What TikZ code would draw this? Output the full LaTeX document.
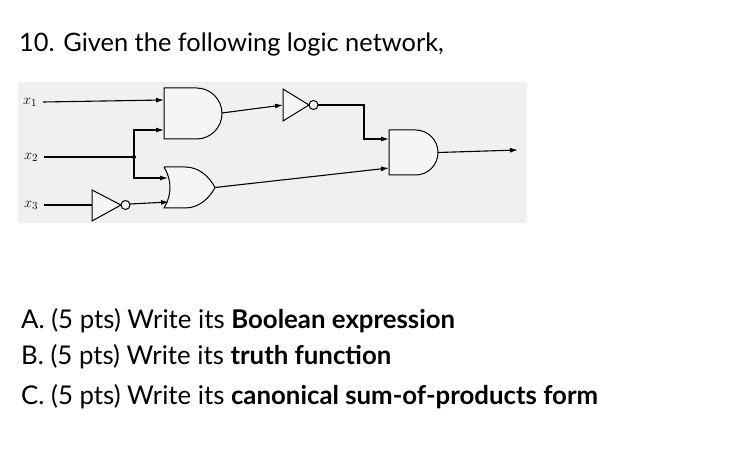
\documentclass[tikz,border=0pt]{standalone}
\usepackage{fontspec}
\setmainfont{Lato}
\usetikzlibrary{arrows.meta}
\begin{document}
\begin{tikzpicture}[x=1pt,y=-1pt,
  wire/.style={line width=1.1pt},
  arr/.style={wire,-{Latex[length=8pt,width=5pt]}},
  gate/.style={line width=1pt,fill=white!92!gray},
  lbl/.style={font=\fontsize{15}{15}\selectfont, inner sep=0pt}]
\useasboundingbox (0,0) rectangle (750,454);
\fill[gray!12] (18,82) rectangle (527,223);
% text
\node[anchor=base west,inner sep=0pt,font=\fontsize{25.4}{28}\selectfont] (title) at (19,52) {10. Given the following logic network,};
\node[anchor=base west,inner sep=0pt,font=\fontsize{25.8}{28}\selectfont] (qa) at (21,329) {A. (5 pts) Write its \textbf{Boolean expression}};
\node[anchor=base west,inner sep=0pt,font=\fontsize{25.8}{28}\selectfont] (qb) at (21,365) {B. (5 pts) Write its \textbf{truth function}};
\node[anchor=base west,inner sep=0pt,font=\fontsize{25.8}{28}\selectfont] (qc) at (21,404) {C. (5 pts) Write its \textbf{canonical sum-of-products form}};
% labels
\node[lbl] (x1) at (30,102) {$x_1$};
\node[lbl] (x2) at (31,157) {$x_2$};
\node[lbl] (x3) at (31,205) {$x_3$};
% gates
\draw[gate] (164,88) -- (196.5,88) arc[start angle=-90,end angle=90,radius=25.5] -- (164,139) -- cycle;
\draw[gate] (164,167) -- (185,167) .. controls (200,167) and (210,178) .. (215,187.5) .. controls (210,197) and (200,208) .. (185,208) -- (164,208) .. controls (172,195) and (172,180) .. (164,167);
\draw[gate] (389,130) -- (415.5,130) arc[start angle=-90,end angle=90,radius=22.5] -- (389,175) -- cycle;
\draw[gate] (283,89) -- (309,105) -- (283,121) -- cycle;
\draw[gate] (313.5,105) circle[radius=4.5];
\draw[gate] (92,190) -- (121,205) -- (92,221) -- cycle;
\draw[gate] (125.5,205) circle[radius=4.5];
% coordinates
\coordinate (a1in1) at (164,100);
\coordinate (a1in2) at (164,130);
\coordinate (a1out) at (222,113);
\coordinate (n1in) at (283,105);
\coordinate (n1out) at (318,105);
\coordinate (o1in1) at (168,178);
\coordinate (o1in2) at (169,202);
\coordinate (o1out) at (215,187.5);
\coordinate (n3in) at (92,205);
\coordinate (n3out) at (130,204);
\coordinate (j) at (134,157);
\coordinate (a2in1) at (389,139);
\coordinate (a2in2) at (389,168);
\coordinate (a2out) at (438,152.5);
\coordinate (out) at (518,150);
% wires
\draw[arr] (x1.east) ++(6,0) -- (a1in1);
\draw[wire] (x2.east) ++(6,0) -- (j);
\fill (j) circle[radius=2pt];
\draw[arr] (j) |- (a1in2);
\draw[arr] (j) |- (o1in1);
\draw[wire] (x3.east) ++(6,0) -- (n3in);
\draw[arr] (n3out) -- (o1in2);
\draw[arr] (a1out) -- (n1in);
\draw[arr] (n1out) -| (364,139) -- (a2in1);
\draw[arr] (o1out) -- (a2in2);
\draw[arr] (a2out) -- (out);
\end{tikzpicture}
\end{document}
